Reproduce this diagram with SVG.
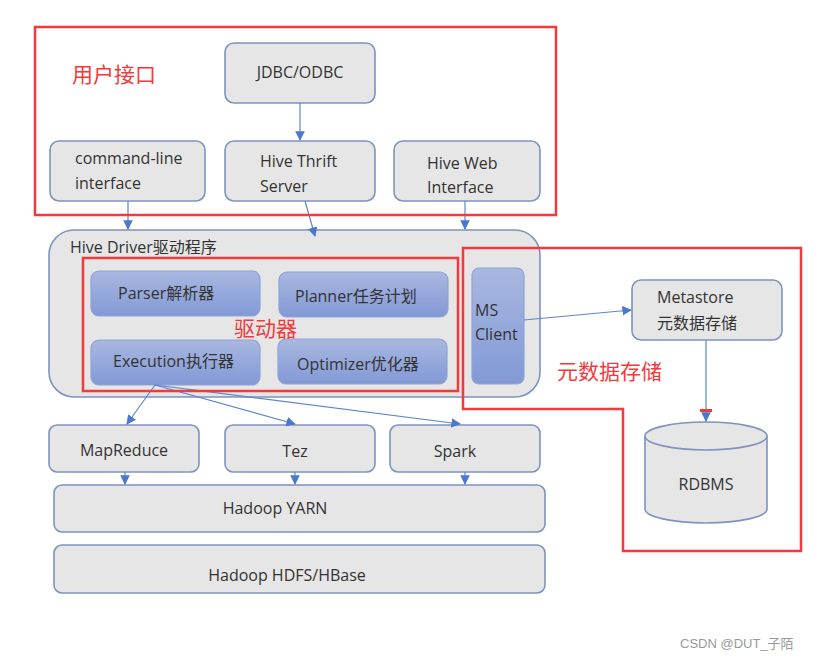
<svg xmlns="http://www.w3.org/2000/svg" width="830" height="661" viewBox="0 0 830 661">
<style>
.n{fill:#e6e6e6;stroke:#7f93bd;stroke-width:1.6}
.b{fill:url(#bl);stroke:#8ea3d6;stroke-width:1.2}
.t{font-family:"Open Sans","Noto Sans CJK SC",sans-serif;font-size:16px;fill:#333}
.r{fill:none;stroke:#f23a3c;stroke-width:2.5}
.rt{font-family:"Noto Sans CJK SC",sans-serif;font-size:21px;fill:#f23a3c}
.c{stroke:#5b86cf;stroke-width:1.2;fill:none;marker-end:url(#a)}
</style>
<defs>
<linearGradient id="bl" x1="0" y1="0" x2="0" y2="1"><stop offset="0" stop-color="#a9b8e0"/><stop offset="1" stop-color="#8299d6"/></linearGradient>
<marker id="a" viewBox="0 0 10 10" refX="9" refY="5" markerWidth="8" markerHeight="8" orient="auto"><path d="M0,0L10,5L0,10z" fill="#4a78cc"/></marker>
</defs>
<rect width="830" height="661" fill="#fff"/>
<g id="driver"><rect class="n" x="49" y="230" width="491" height="167" rx="25"/><text class="t" x="70" y="253">Hive Driver驱动程序</text></g>
<g id="jdbc"><rect class="n" x="225" y="43" width="150" height="60" rx="9"/><text class="t" x="300" y="78" text-anchor="middle">JDBC/ODBC</text></g>
<g id="cli"><rect class="n" x="50" y="141" width="155" height="60" rx="9"/><text class="t" x="75" y="164">command-line</text><text class="t" x="75" y="189">interface</text></g>
<g id="thrift"><rect class="n" x="225" y="141" width="150" height="60" rx="9"/><text class="t" x="260" y="167">Hive Thrift</text><text class="t" x="260" y="192">Server</text></g>
<g id="web"><rect class="n" x="394" y="141" width="146" height="60" rx="9"/><text class="t" x="427" y="169">Hive Web</text><text class="t" x="427" y="193">Interface</text></g>
<g id="parser"><rect class="b" x="91" y="271" width="169" height="45" rx="8"/><text class="t" x="118" y="299">Parser解析器</text></g>
<g id="planner"><rect class="b" x="279" y="272" width="169" height="45" rx="8"/><text class="t" x="295" y="302">Planner任务计划</text></g>
<g id="execution"><rect class="b" x="91" y="340" width="169" height="45" rx="8"/><text class="t" x="113" y="367">Execution执行器</text></g>
<g id="optimizer"><rect class="b" x="278" y="339" width="169" height="45" rx="8"/><text class="t" x="297" y="370">Optimizer优化器</text></g>
<g id="msclient"><rect class="b" x="472" y="268" width="52" height="116" rx="7"/><text class="t" x="475" y="316">MS</text><text class="t" x="475" y="340">Client</text></g>
<g id="metastore"><rect class="n" x="632" y="280" width="150" height="60" rx="9"/><text class="t" x="657" y="303">Metastore</text><text class="t" x="657" y="329">元数据存储</text></g>
<g id="rdbms"><path class="n" d="M645,436 A61,14 0 0 1 767,436 V509 A61,14 0 0 1 645,509 Z"/><path d="M645,436 A61,14 0 0 0 767,436" fill="none" stroke="#7f93bd" stroke-width="1.6"/><text class="t" x="706" y="490" text-anchor="middle">RDBMS</text></g>
<g id="mapreduce"><rect class="n" x="49" y="425" width="150" height="47" rx="8"/><text class="t" x="124" y="456" text-anchor="middle">MapReduce</text></g>
<g id="tez"><rect class="n" x="225" y="425" width="150" height="47" rx="8"/><text class="t" x="295" y="457" text-anchor="middle">Tez</text></g>
<g id="spark"><rect class="n" x="390" y="425" width="150" height="47" rx="8"/><text class="t" x="455" y="457" text-anchor="middle">Spark</text></g>
<g id="yarn"><rect class="n" x="54" y="485" width="491" height="47" rx="8"/><text class="t" x="275" y="514" text-anchor="middle">Hadoop YARN</text></g>
<g id="hdfs"><rect class="n" x="54" y="545" width="491" height="48" rx="8"/><text class="t" x="287" y="581" text-anchor="middle">Hadoop HDFS/HBase</text></g>
<g id="connectors">
<path class="c" d="M300,103V140"/>
<path class="c" d="M128,201V229"/>
<path class="c" d="M305,201L315,236"/>
<path class="c" d="M465,201V229"/>
<path class="c" d="M155,385L127,424"/>
<path class="c" d="M155,385L295,424"/>
<path class="c" d="M155,385L460,424"/>
<path class="c" d="M524,320L631,310"/>
<path class="c" d="M706,340V421"/>
<path class="c" d="M125,472V484"/>
<path class="c" d="M295,472V484"/>
<path class="c" d="M465,472V484"/>
</g>
<g id="annotations">
<rect class="r" x="35" y="27" width="521" height="188"/>
<text class="rt" x="72" y="82">用户接口</text>
<rect class="r" x="83" y="258" width="375" height="133"/>
<text class="rt" x="234" y="336">驱动器</text>
<path class="r" d="M463,248H801V551H623V409H463Z"/>
<text class="rt" x="557" y="379">元数据存储</text>
<rect x="700" y="409" width="12" height="3" fill="#f23a3c"/>
</g>
<text x="680" y="648" font-family="'Liberation Sans','Noto Sans CJK SC',sans-serif" font-size="13" fill="#999">CSDN @DUT_子陌</text>
</svg>
